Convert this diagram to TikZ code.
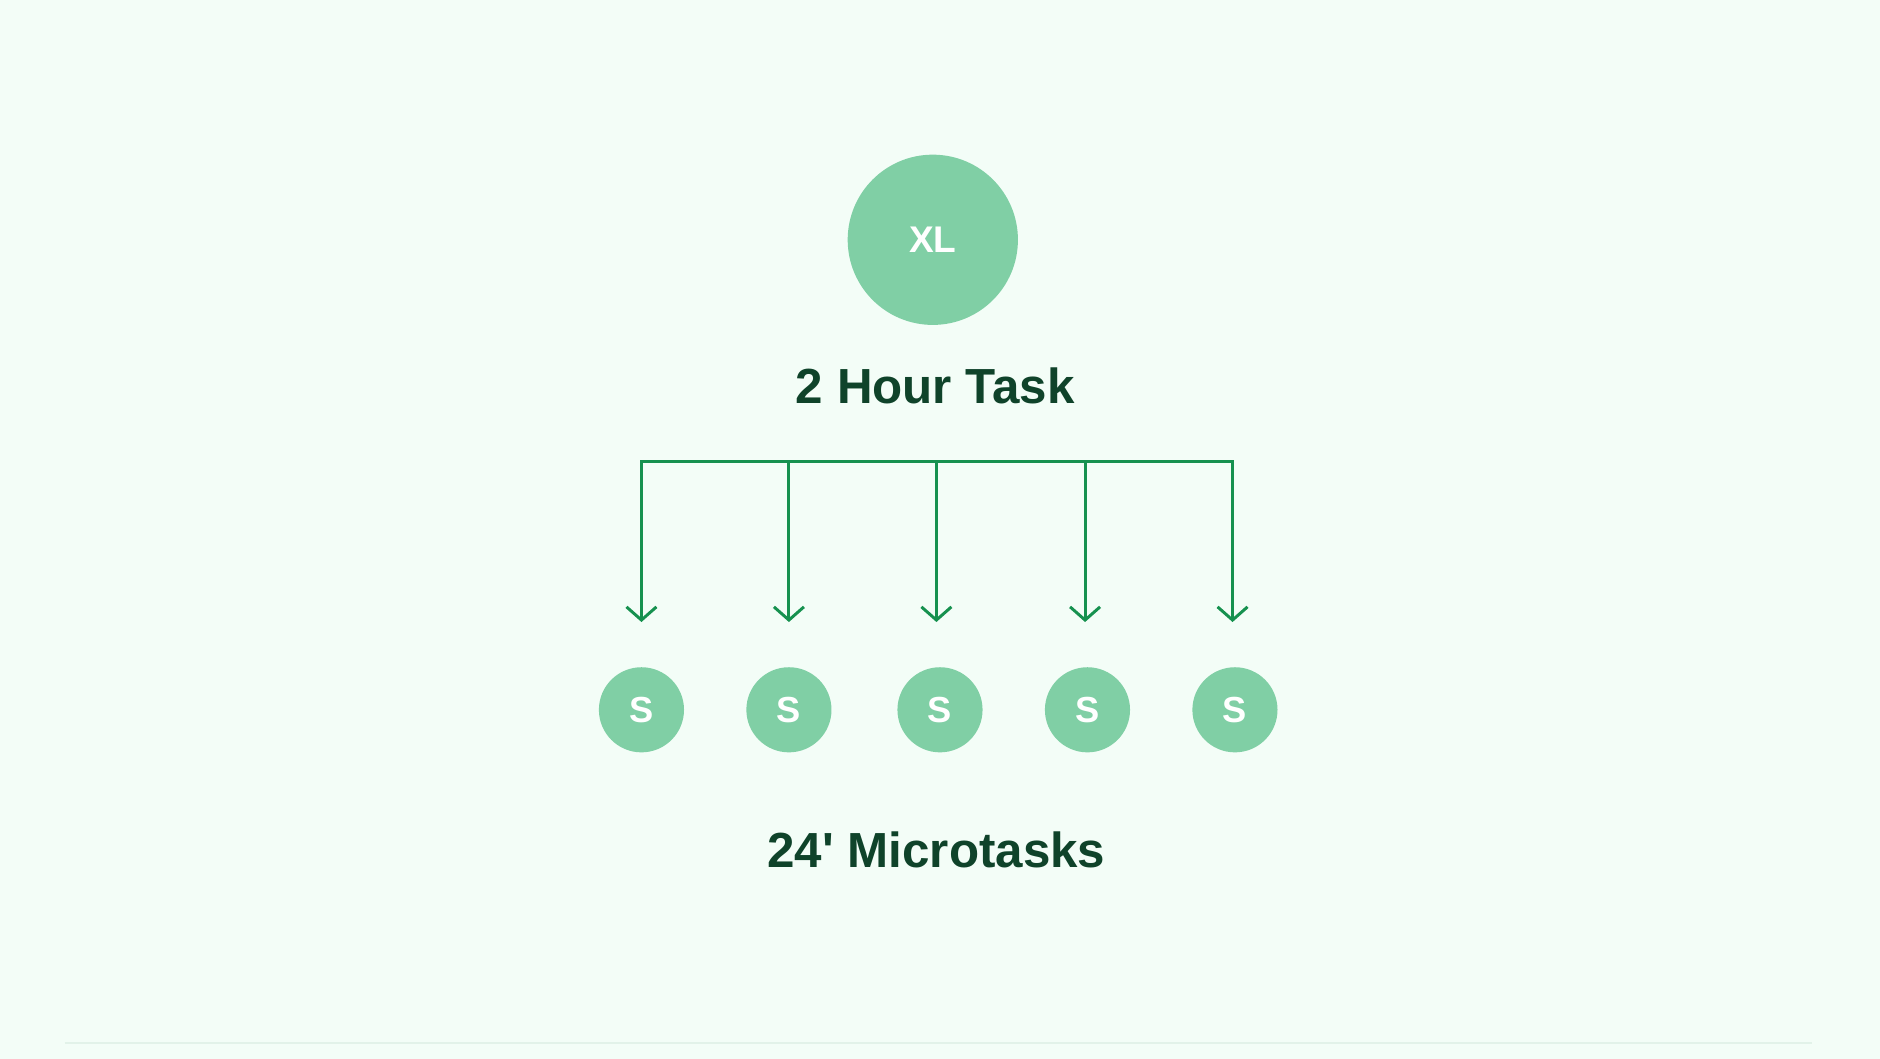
\documentclass[tikz,border=0pt]{standalone}
\usepackage{fontspec}
\setmainfont{Liberation Sans}
\usetikzlibrary{positioning, arrows.meta}

\definecolor{paper}{HTML}{F3FDF7}
\definecolor{mint}{HTML}{80CFA5}
\definecolor{leaf}{HTML}{16914F}
\definecolor{forest}{HTML}{0F432A}
\definecolor{rulegreen}{HTML}{E2F2E9}

\begin{document}
\begin{tikzpicture}[x=0.1mm, y=-0.1mm]
    % Styles
    \tikzstyle{task} = [circle, fill=mint, text=white, font=\bfseries, inner sep=0pt]
    \tikzstyle{big task} = [task, minimum size=14.2mm, font=\fontsize{8.8}{10}\bfseries]
    \tikzstyle{small task} = [task, minimum size=7.1mm, font=\fontsize{8.6}{10}\bfseries]
    \tikzstyle{caption} = [text=forest, font=\fontsize{11.7}{14}\bfseries]
    \tikzstyle{edge} = [-{Straight Barb[length=1.1mm, width=2.5mm]}, draw=leaf, line width=0.7pt, shorten >=3.7mm]

    % Background
    \fill[paper] (0, 0) rectangle (1568, 883);
    \useasboundingbox (0, 0) rectangle (1568, 883);
    \draw[rulegreen, line width=0.6pt] (54, 870) -- (1511, 870);

    % Nodes
    \node[big task] (xl) at (778, 200) {XL};
    \node[caption] (hours) at (780, 322) {2 Hour Task};

    \node[small task] (s1) at (535, 592) {S};
    \node[small task] (s2) at (658, 592) {S};
    \node[small task] (s3) at (784, 592) {S};
    \node[small task] (s4) at (907, 592) {S};
    \node[small task] (s5) at (1030, 592) {S};

    \node[caption] (micro) at (781, 709) {24\textquotesingle{} Microtasks};

    % Bus
    \coordinate (b1) at (535, 385);
    \coordinate (b2) at (658, 385);
    \coordinate (b3) at (781, 385);
    \coordinate (b4) at (905, 385);
    \coordinate (b5) at (1028, 385);
    \draw[leaf, line width=0.7pt, line cap=rect] (b1) -- (b5);

    % Edges
    \draw[edge] (b1) -- (b1 |- s1.north);
    \draw[edge] (b2) -- (b2 |- s2.north);
    \draw[edge] (b3) -- (b3 |- s3.north);
    \draw[edge] (b4) -- (b4 |- s4.north);
    \draw[edge] (b5) -- (b5 |- s5.north);
\end{tikzpicture}
\end{document}
